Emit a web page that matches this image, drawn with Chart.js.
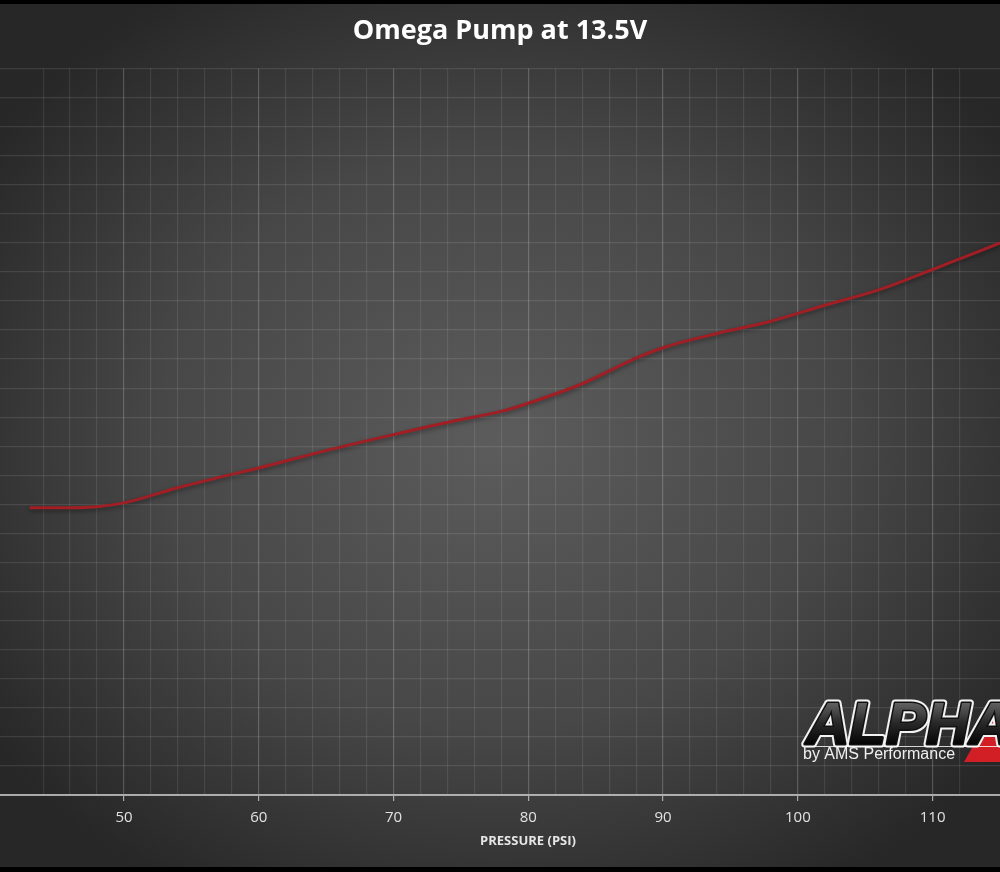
<!DOCTYPE html>
<html>
<head>
<meta charset="utf-8">
<script src="https://cdn.jsdelivr.net/npm/chart.js@4.4.1/dist/chart.umd.min.js"></script>
<style>
  html, body { margin: 0; padding: 0; background: #000; }
  #wrap { width: 1000px; height: 872px; }
</style>
</head>
<body>
<div id="wrap"><canvas id="pumpChart" width="1000" height="872"></canvas></div>
<script>
// Omega pump curve
const pressure = [43, 45, 48, 50, 54, 57, 60, 65, 70, 75, 78, 80, 84, 88, 90, 94, 98, 102, 106, 110, 112, 115, 116];
const draw = [9.88, 9.88, 9.92, 10.05, 10.57, 10.92, 11.25, 11.85, 12.40, 12.92, 13.2, 13.48, 14.15, 15.03, 15.39, 15.88, 16.30, 16.85, 17.38, 18.08, 18.45, 19.0, 19.22];
const xTickLabels = [50, 60, 70, 80, 90, 100, 110];
const xTitle = 'PRESSURE (PSI)';

document.addEventListener('DOMContentLoaded', function () {
    const bgPlugin = {
        id: 'bg',
        beforeDraw(chart) {
            const ctx = chart.ctx;
            const w = chart.width, h = chart.height;
            ctx.save();
            ctx.translate(w / 2, 440);
            ctx.scale(1, 0.85);
            const g = ctx.createRadialGradient(0, 0, 0, 0, 0, 620);
            g.addColorStop(0, '#5c5c5c');
            g.addColorStop(0.55, '#474747');
            g.addColorStop(1, '#272727');
            ctx.fillStyle = g;
            ctx.fillRect(-w, -h, w * 2, h * 2);
            ctx.restore();
            ctx.save();
            ctx.fillStyle = '#000';
            ctx.fillRect(0, 0, w, 4);
            ctx.fillRect(0, 867, w, h - 867);
            ctx.restore();
        }
    };

    const lineShadow = {
        id: 'lineShadow',
        beforeDatasetDraw(chart) {
            const ctx = chart.ctx;
            ctx.save();
            ctx.shadowColor = 'rgba(0,0,0,0.4)';
            ctx.shadowBlur = 4;
            ctx.shadowOffsetY = 2;
        },
        afterDatasetDraw(chart) {
            chart.ctx.restore();
        }
    };

    // axis title sits off-centre in the cropped original
    const axisTitle = {
        id: 'axisTitle',
        afterDraw(chart) {
            const ctx = chart.ctx;
            ctx.save();
            ctx.font = 'bold 13px "Open Sans"';
            ctx.fillStyle = '#e6e6e6';
            ctx.textAlign = 'center';
            ctx.textBaseline = 'middle';
            ctx.fillText(xTitle, 528, 841);
            ctx.restore();
        }
    };

    // brand mark in the lower right corner
    const logo = {
        id: 'logo',
        afterDraw(chart) {
            const ctx = chart.ctx;
            ctx.save();
            ctx.fillStyle = '#d21f26';
            ctx.beginPath();
            ctx.moveTo(990, 716);
            ctx.lineTo(1000, 716);
            ctx.lineTo(1000, 762);
            ctx.lineTo(964, 762);
            ctx.closePath();
            ctx.fill();

            ctx.save();
            ctx.translate(806, 744);
            ctx.font = 'italic 900 60px "Liberation Sans", Arial, sans-serif';
            ctx.textBaseline = 'alphabetic';
            ctx.lineJoin = 'round';
            ctx.lineWidth = 7;
            ctx.strokeStyle = '#f2f2f2';
            ctx.strokeText('ALPHA', 0, 0);
            ctx.lineWidth = 3;
            ctx.strokeStyle = '#111';
            ctx.strokeText('ALPHA', 0, 0);
            const g = ctx.createLinearGradient(0, -44, 0, 0);
            g.addColorStop(0, '#6a6a6a');
            g.addColorStop(0.5, '#2a2a2a');
            g.addColorStop(1, '#050505');
            ctx.fillStyle = g;
            ctx.fillText('ALPHA', 0, 0);
            ctx.restore();

            ctx.strokeStyle = 'rgba(255,255,255,0.8)';
            ctx.lineWidth = 1;
            ctx.beginPath();
            ctx.moveTo(806, 746.5);
            ctx.lineTo(1000, 746.5);
            ctx.stroke();

            ctx.font = '16px "Liberation Sans", Arial, sans-serif';
            ctx.fillStyle = '#f0f0f0';
            ctx.fillText('by AMS Performance', 803, 759);
            ctx.restore();
        }
    };

    const data = {
        datasets: [{
            label: 'Omega Pump',
            data: pressure.map((p, i) => ({ x: p, y: draw[i] })),
            borderColor: '#a01e24',
            borderWidth: 3,
            pointRadius: 0,
            cubicInterpolationMode: 'monotone',
            fill: false
        }]
    };

    const config = {
        type: 'line',
        data: data,
        options: {
            responsive: false,
            animation: false,
            layout: {
                padding: { top: 0, bottom: 37, left: 0, right: 0 }
            },
            plugins: {
                legend: { display: false },
                tooltip: { enabled: false },
                title: {
                    display: true,
                    text: 'Omega Pump at 13.5V',
                    color: '#ffffff',
                    font: { size: 27, weight: 'bold', family: 'Open Sans' },
                    padding: { top: 15, bottom: 21 }
                }
            },
            scales: {
                x: {
                    type: 'linear',
                    min: 40.8,
                    max: 115,
                    afterBuildTicks(scale) {
                        scale.ticks = scale.ticks.filter(t => Math.abs(t.value - Math.round(t.value)) < 1e-6 && Math.round(t.value) % 2 === 0);
                    },
                    border: { display: true, color: 'rgba(210,210,210,0.75)', width: 2 },
                    grid: {
                        color: (c) => c.tick && c.tick.value % 10 === 0 ? 'rgba(255,255,255,0.2)' : 'rgba(255,255,255,0.09)',
                        tickColor: (c) => c.tick && c.tick.value % 10 === 0 ? 'rgba(210,210,210,0.75)' : 'rgba(0,0,0,0)',
                        tickLength: 6,
                        lineWidth: 1.2
                    },
                    ticks: {
                        stepSize: 2,
                        autoSkip: false,
                        maxRotation: 0,
                        padding: 8,
                        color: '#e2e2e2',
                        font: { size: 15, family: 'Open Sans' },
                        callback: (v) => xTickLabels.includes(v) ? String(v) : ''
                    }
                },
                y: {
                    min: 0,
                    max: 25,
                    border: { display: false },
                    grid: {
                        color: 'rgba(255,255,255,0.1)',
                        drawTicks: false,
                        lineWidth: 1.2
                    },
                    ticks: { display: false, stepSize: 1 }
                }
            }
        },
        plugins: [bgPlugin, lineShadow, axisTitle, logo]
    };

    const myChart = new Chart(document.getElementById('pumpChart'), config);
});
</script>
</body>
</html>
